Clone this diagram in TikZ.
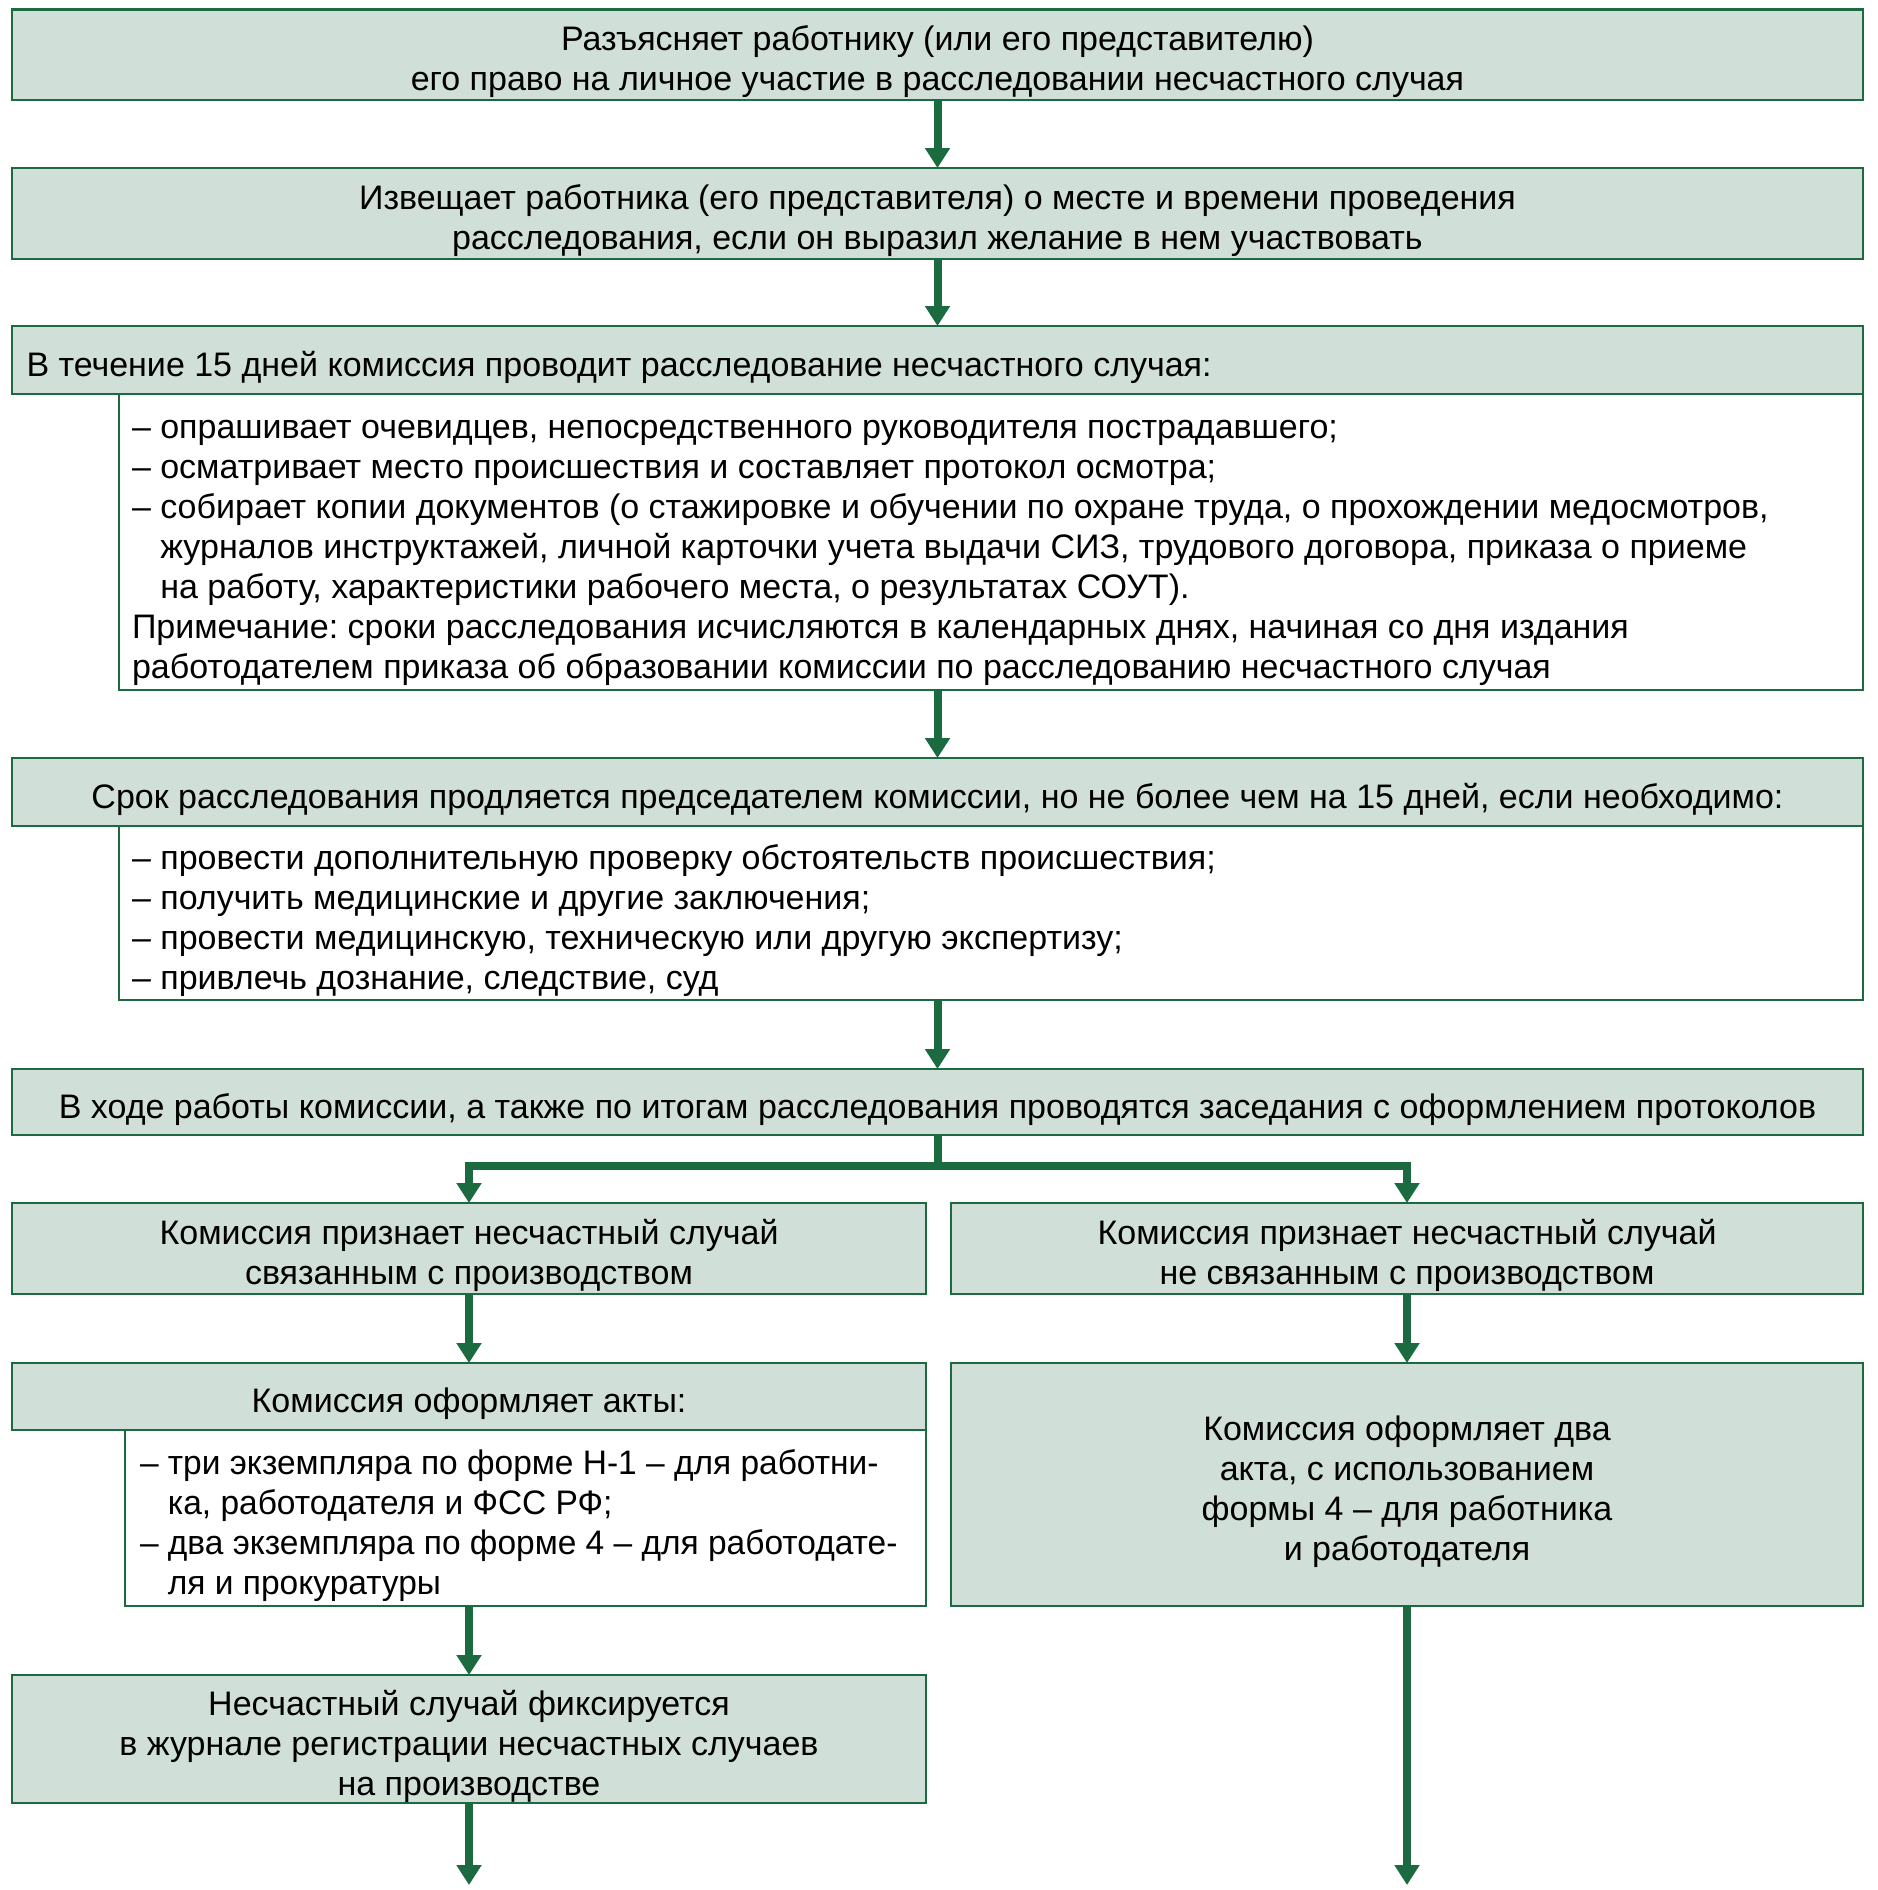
\documentclass[tikz,border=0pt]{standalone}
\usepackage{fontspec}
\setmainfont{Liberation Sans}
\newfontfamily\narrowfont[FakeStretch=0.985]{Liberation Sans}
\usetikzlibrary{arrows.meta}
\definecolor{dkgreen}{HTML}{1B6A40}
\definecolor{boxfill}{HTML}{D0DFD7}
\begin{document}
\begin{tikzpicture}[x=0.5pt,y=-0.5pt,
  every node/.style={font=\fontsize{17}{20}\selectfont\frenchspacing, inner sep=0pt, outer sep=0pt},
  txtshift/.style={execute at begin node={\rule{0pt}{20pt}}, execute at end node={\rule[-4pt]{0pt}{4pt}}},
  gbox/.style={draw=dkgreen, fill=boxfill, line width=1.2pt, rectangle, align=flush center, txtshift},
  wbox/.style={draw=dkgreen, fill=white, line width=1.2pt, rectangle, align=flush left, txtshift},
  flow/.style={draw=dkgreen, line width=4pt, line join=miter, -{Triangle[width=12pt,length=10pt]}},
  ]
\useasboundingbox[fill=white] (0,0) rectangle (1878,1890);

% full width boxes
\node[gbox, text width=900pt, minimum width=925.5pt, minimum height=45.25pt] (b1) at (937.5,54.75)
  {Разъясняет работнику (или его представителю)\\его право на личное участие в расследовании несчастного случая};
\node[gbox, text width=900pt, minimum width=925.5pt, minimum height=45.5pt] (b2) at (937.5,213.5)
  {Извещает работника (его представителя) о месте и времени проведения\\расследования, если он выразил желание в нем участвовать};
\node[gbox, align=flush left, text width=911pt, inner xsep=7.25pt, minimum height=34pt] (b3h) at (937.5,360)
  {В течение 15 дней комиссия проводит расследование несчастного случая:};
\node[wbox, text width=859pt, inner xsep=6.5pt, minimum height=148pt] (b3b) at (991,542)
  {\mbox{– опрашивает очевидцев, непосредственного руководителя пострадавшего;}\\
   \mbox{– осматривает место происшествия и составляет протокол осмотра;}\\
   \mbox{– собирает копии документов (о стажировке и обучении по охране труда, о прохождении медосмотров,}\\
   \mbox{\hphantom{– }журналов инструктажей, личной карточки учета выдачи СИЗ, трудового договора, приказа о приеме}\\
   \mbox{\hphantom{– }на работу, характеристики рабочего места, о результатах СОУТ).}\\
   \mbox{Примечание: сроки расследования исчисляются в календарных днях, начиная со дня издания}\\
   \mbox{работодателем приказа об образовании комиссии по расследованию несчастного случая}};
\node[gbox, text width=915pt, minimum width=925.5pt, minimum height=34pt] (b4h) at (937.5,792)
  {Срок расследования продляется председателем комиссии, но не более чем на 15 дней, если необходимо:};
\node[wbox, text width=859pt, inner xsep=6.5pt, minimum height=87pt] (b4b) at (991,913)
  {– провести дополнительную проверку обстоятельств происшествия;\\
   – получить медицинские и другие заключения;\\
   – провести медицинскую, техническую или другую экспертизу;\\
   – привлечь дознание, следствие, суд};
\node[gbox, text width=915pt, minimum width=925.5pt, minimum height=33pt] (b5) at (937.5,1102)
  {В ходе работы комиссии, а также по итогам расследования проводятся заседания с оформлением протоколов};

% left column
\node[gbox, text width=440pt, minimum width=457pt, minimum height=45.5pt] (b6l) at (469,1248.5)
  {Комиссия признает несчастный случай\\связанным с производством};
\node[gbox, text width=440pt, minimum width=457pt, minimum height=33.5pt] (b7lh) at (469,1396.5)
  {Комиссия оформляет акты:};
\node[wbox, text width=385.5pt, inner xsep=7.5pt, minimum height=88pt, font=\fontsize{17}{20}\narrowfont\frenchspacing] (b7lb) at (525.5,1518)
  {\mbox{– три экземпляра по форме Н-1 – для работни-}\\
   \mbox{\hphantom{– }ка, работодателя и ФСС РФ;}\\
   \mbox{– два экземпляра по форме 4 – для работодате-}\\
   \mbox{\hphantom{– }ля и прокуратуры}};
\node[gbox, text width=440pt, minimum width=457pt, minimum height=64pt] (b8) at (469,1739)
  {Несчастный случай фиксируется\\в журнале регистрации несчастных случаев\\на производстве};

% right column
\node[gbox, text width=440pt, minimum width=456pt, minimum height=45.5pt] (b6r) at (1407,1248.5)
  {Комиссия признает несчастный случай\\не связанным с производством};
\node[gbox, text width=440pt, minimum width=456pt, minimum height=121.5pt] (b7r) at (1407,1484.5)
  {Комиссия оформляет два\\акта, с использованием\\формы 4 – для работника\\и работодателя};

% connectors
\draw[flow] (b1.south) -- (b2.north);
\draw[flow] (b2.south) -- (b3h.north);
\draw[flow] (b3b.south -| b1.south) -- (b4h.north);
\draw[flow] (b4b.south -| b1.south) -- (b5.north);
\coordinate (sp) at (937.5,1166);
\draw[flow] (b5.south) -- (sp) -| (b6l.north);
\draw[flow] (sp) -| (b6r.north);
\draw[flow] (b6l.south) -- (b7lh.north);
\draw[flow] (b6r.south) -- (b7r.north);
\draw[flow] (b7lb.south -| b6l.south) -- (b8.north);
\coordinate (endl) at (469,1885);
\coordinate (endr) at (1407,1885);
\draw[flow] (b8.south) -- (endl);
\draw[flow] (b7r.south) -- (endr);
\end{tikzpicture}
\end{document}
